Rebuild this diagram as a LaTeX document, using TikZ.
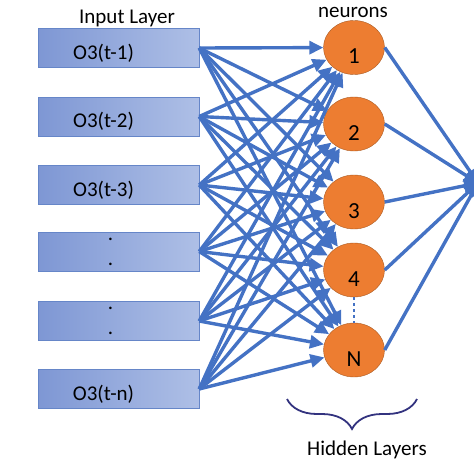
\documentclass[tikz,border=0pt]{standalone}
\usepackage{fontspec}
\setmainfont{Carlito}
\usetikzlibrary{arrows.meta,positioning,shapes.geometric,decorations.pathreplacing}
\definecolor{linkBlue}{HTML}{4472C4}
\definecolor{boxLeft}{HTML}{7E97D4}
\definecolor{boxRight}{HTML}{AEBFE6}
\definecolor{boxLine}{HTML}{6686C8}
\definecolor{cellOrange}{HTML}{ED7D31}
\definecolor{cellLine}{HTML}{A95A22}
\definecolor{braceInk}{HTML}{33337F}

\begin{document}
\begin{tikzpicture}[
    x=1pt,y=-1pt,
    >={Triangle[length=14pt,width=13pt]},
    every node/.style={font=\fontsize{21}{25}\selectfont},
    inbox/.style={rectangle,draw=boxLine,left color=boxLeft,right color=boxRight,
                  thin,inner sep=0pt,minimum height=39pt,minimum width=161pt},
    cell/.style ={ellipse,draw=cellLine,fill=cellOrange,thin,inner sep=0pt,
                  minimum width=61pt,minimum height=54pt,text height=32pt,text depth=0pt,
                  font=\fontsize{23}{25}\selectfont},
    link/.style={->,linkBlue,line width=3.4pt},
    ttl/.style={anchor=base}
  ]
  \useasboundingbox (0,0) rectangle (474,474);
  %% Left: the input layer
  \node[ttl] (inTitle) at (127,23) {Input Layer};
  \foreach \i/\y in {1/48,2/116.5,3/185,4/251.5,5/321,6/389}
    \node[inbox] (in\i) at (118.5,\y) {};
  \foreach \i/\t in {1/O3(t-1),2/O3(t-2),3/O3(t-3),6/O3(t-n)}
    \node[ttl] (txt\i) at ([xshift=-15pt,yshift=-11pt]in\i.center) {\t};
  \node[align=center] (dots4) at ([xshift=-8pt]in4.center) {.\\.};
  \node[align=center] (dots5) at ([xshift=-8pt]in5.center) {.\\.};
  %% Middle: the hidden neurons
  \node[ttl] (hTitle) at (353,17) {neurons};
  \foreach \j/\y/\t in {1/47.5/1,2/124/2,3/202/3,4/270/4,5/350/N}
    \node[cell] (h\j) at (354,\y) {\t};
  \draw[linkBlue,dashed,line width=1.2pt] (h4) -- (h5);
  %% every input feeds every neuron
  \foreach \i in {1,...,6}
    \foreach \j in {1,...,5}
      \draw[link] (in\i.east) -- (h\j);
  %% Right: towards the output
  \coordinate (out) at (478,183);
  \foreach \j in {1,...,5}
    \draw[link] (h\j.east) -- (out);
  %% Bottom: brace and caption
  \coordinate (brL) at (287,399);
  \coordinate (brR) at (417,399);
  \draw[braceInk,line width=1.8pt,decorate,decoration={brace,mirror,amplitude=30pt}] (brL) -- (brR);
  \node[ttl] (hidTitle) at (367,455) {Hidden Layers};
\end{tikzpicture}
\end{document}
